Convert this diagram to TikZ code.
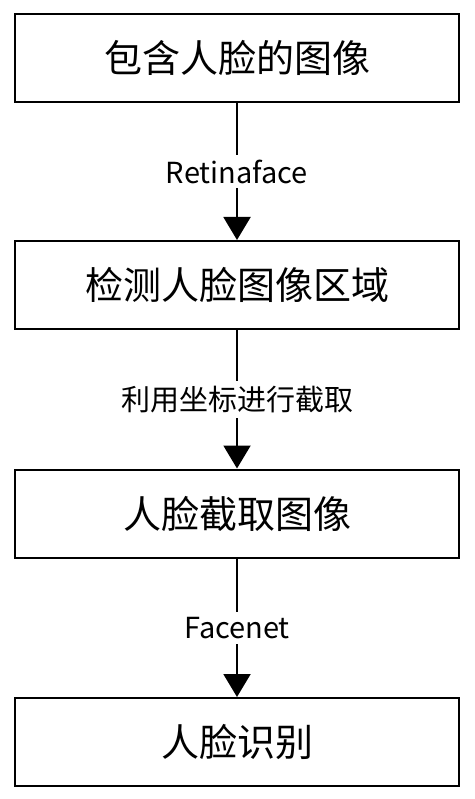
\documentclass[tikz,border=0pt]{standalone}
\usepackage{fontspec}
\setmainfont{Noto Sans CJK SC}
\usetikzlibrary{arrows.meta, calc}

\begin{document}
\begin{tikzpicture}[x=1pt, y=-1pt,
	stepbox/.style={draw=black, line width=2pt, minimum width=444pt, minimum height=88pt, inner sep=0pt, font=\fontsize{38}{40}\selectfont},
	tag/.style={fill=white, inner xsep=3pt, inner ysep=5pt, font=\fontsize{29}{31}\selectfont},
	flow/.style={line width=2pt, -{Triangle[length=23pt, width=27pt]}}]
	\useasboundingbox (0,0) rectangle (474,799);

	\node[stepbox] (img) at (237, 58) {包含人脸的图像};
	\node[stepbox] (det) at (237, 285) {检测人脸图像区域};
	\node[stepbox] (crop) at (237, 513.5) {人脸截取图像};
	\node[stepbox] (rec) at (237, 742) {人脸识别};

	\draw[flow] (img) -- node[tag] (retina) {Retinaface} (det);
	\draw[flow] (det) -- node[tag] (cut) {利用坐标进行截取} (crop);
	\draw[flow] (crop) -- node[tag] (facenet) {Facenet} (rec);

\end{tikzpicture}
\end{document}
